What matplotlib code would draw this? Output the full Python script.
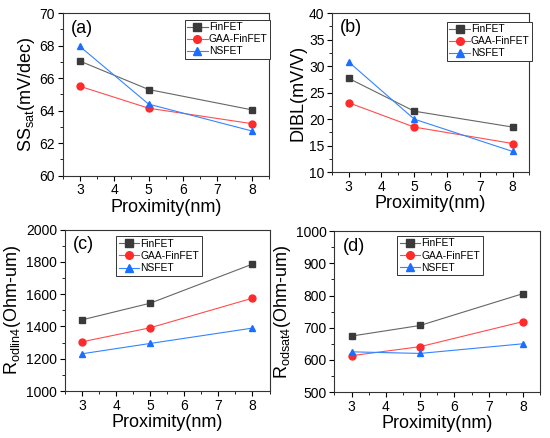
import matplotlib
matplotlib.use("Agg")
import matplotlib.pyplot as plt
from matplotlib.ticker import MultipleLocator, AutoMinorLocator

# ── Data ──────────────────────────────────────────────────────────────────────
proximity = [3, 5, 8]
devices = ["FinFET", "GAA-FinFET", "NSFET"]

ss_finfet = [67.05, 65.3, 64.05]
ss_gaa    = [65.5, 64.15, 63.2]
ss_nsfet  = [67.95, 64.4, 62.75]

dibl_finfet = [27.7, 21.5, 18.5]
dibl_gaa    = [23.1, 18.5, 15.4]
dibl_nsfet  = [30.8, 20.0, 13.9]

rodlin_finfet = [1441, 1544, 1786]
rodlin_gaa    = [1305, 1392, 1575]
rodlin_nsfet  = [1231, 1295, 1390]

rodsat_finfet = [674, 707, 806]
rodsat_gaa    = [613, 641, 719]
rodsat_nsfet  = [625, 620, 650]

# ── Style ─────────────────────────────────────────────────────────────────────
plt.rcParams.update({
    "font.family": "Liberation Sans",
    "mathtext.default": "regular",
    "axes.linewidth": 0.8,
    "axes.edgecolor": "#333333",
    "xtick.direction": "out",
    "ytick.direction": "out",
    "xtick.major.size": 3.5,
    "ytick.major.size": 3.5,
    "xtick.minor.size": 2,
    "ytick.minor.size": 2,
    "xtick.labelsize": 10,
    "ytick.labelsize": 10,
})

STYLE = {
    "FinFET":     dict(color="#666666", mfc="#3a3a3a", mec="#3a3a3a", marker="s"),
    "GAA-FinFET": dict(color="#ff4d4d", mfc="#ff2a2a", mec="#ff2a2a", marker="o"),
    "NSFET":      dict(color="#3385ff", mfc="#1a6fff", mec="#1a6fff", marker="^"),
}

fig = plt.figure(figsize=(5.5, 4.38), dpi=100)

panels = [
    # rect, tag, ylabel, series, ylim, ystep, legend anchor (upper-left corner)
    ([0.114, 0.599, 0.375, 0.371], "(a)", r"SS$_{sat}$(mV/dec)",
     [ss_finfet, ss_gaa, ss_nsfet], (60, 70), 2, (0.591, 0.959)),
    ([0.604, 0.607, 0.358, 0.363], "(b)", "DIBL(mV/V)",
     [dibl_finfet, dibl_gaa, dibl_nsfet], (10, 40), 5, (0.582, 0.947)),
    ([0.118, 0.107, 0.372, 0.369], "(c)", r"R$_{odlin4}$(Ohm-um)",
     [rodlin_finfet, rodlin_gaa, rodlin_nsfet], (1000, 2000), 200, (0.25, 0.957)),
    ([0.608, 0.105, 0.374, 0.367], "(d)", r"R$_{odsat4}$(Ohm-um)",
     [rodsat_finfet, rodsat_gaa, rodsat_nsfet], (500, 1000), 100, (0.305, 0.971)),
]

for rect, tag, ylabel, series, ylim, ystep, anchor in panels:
    ax = fig.add_axes(rect)
    for name, vals in zip(devices, series):
        ax.plot(proximity, vals, label=name, linewidth=0.8, markersize=5,
                clip_on=False, **STYLE[name])
    ax.set_xlim(2.5, 8.5)
    ax.set_ylim(*ylim)
    ax.xaxis.set_major_locator(MultipleLocator(1))
    ax.xaxis.set_minor_locator(AutoMinorLocator(2))
    ax.yaxis.set_major_locator(MultipleLocator(ystep))
    ax.yaxis.set_minor_locator(AutoMinorLocator(2))
    ax.tick_params(pad=2)
    ax.set_xlabel("Proximity(nm)", fontsize=13, labelpad=1)
    ax.set_ylabel(ylabel, fontsize=13, labelpad=2)
    ax.text(0.04, 0.96, tag, transform=ax.transAxes, fontsize=13,
            ha="left", va="top")
    leg = ax.legend(loc="upper left", bbox_to_anchor=anchor, fontsize=7.4,
                    handlelength=2.0, handletextpad=0.1, borderpad=0.25,
                    labelspacing=0.2, fancybox=False, framealpha=1,
                    borderaxespad=0, markerscale=1.1)
    leg.get_frame().set_edgecolor("#333333")
    leg.get_frame().set_linewidth(0.7)

plt.savefig("out.png", dpi=100)
